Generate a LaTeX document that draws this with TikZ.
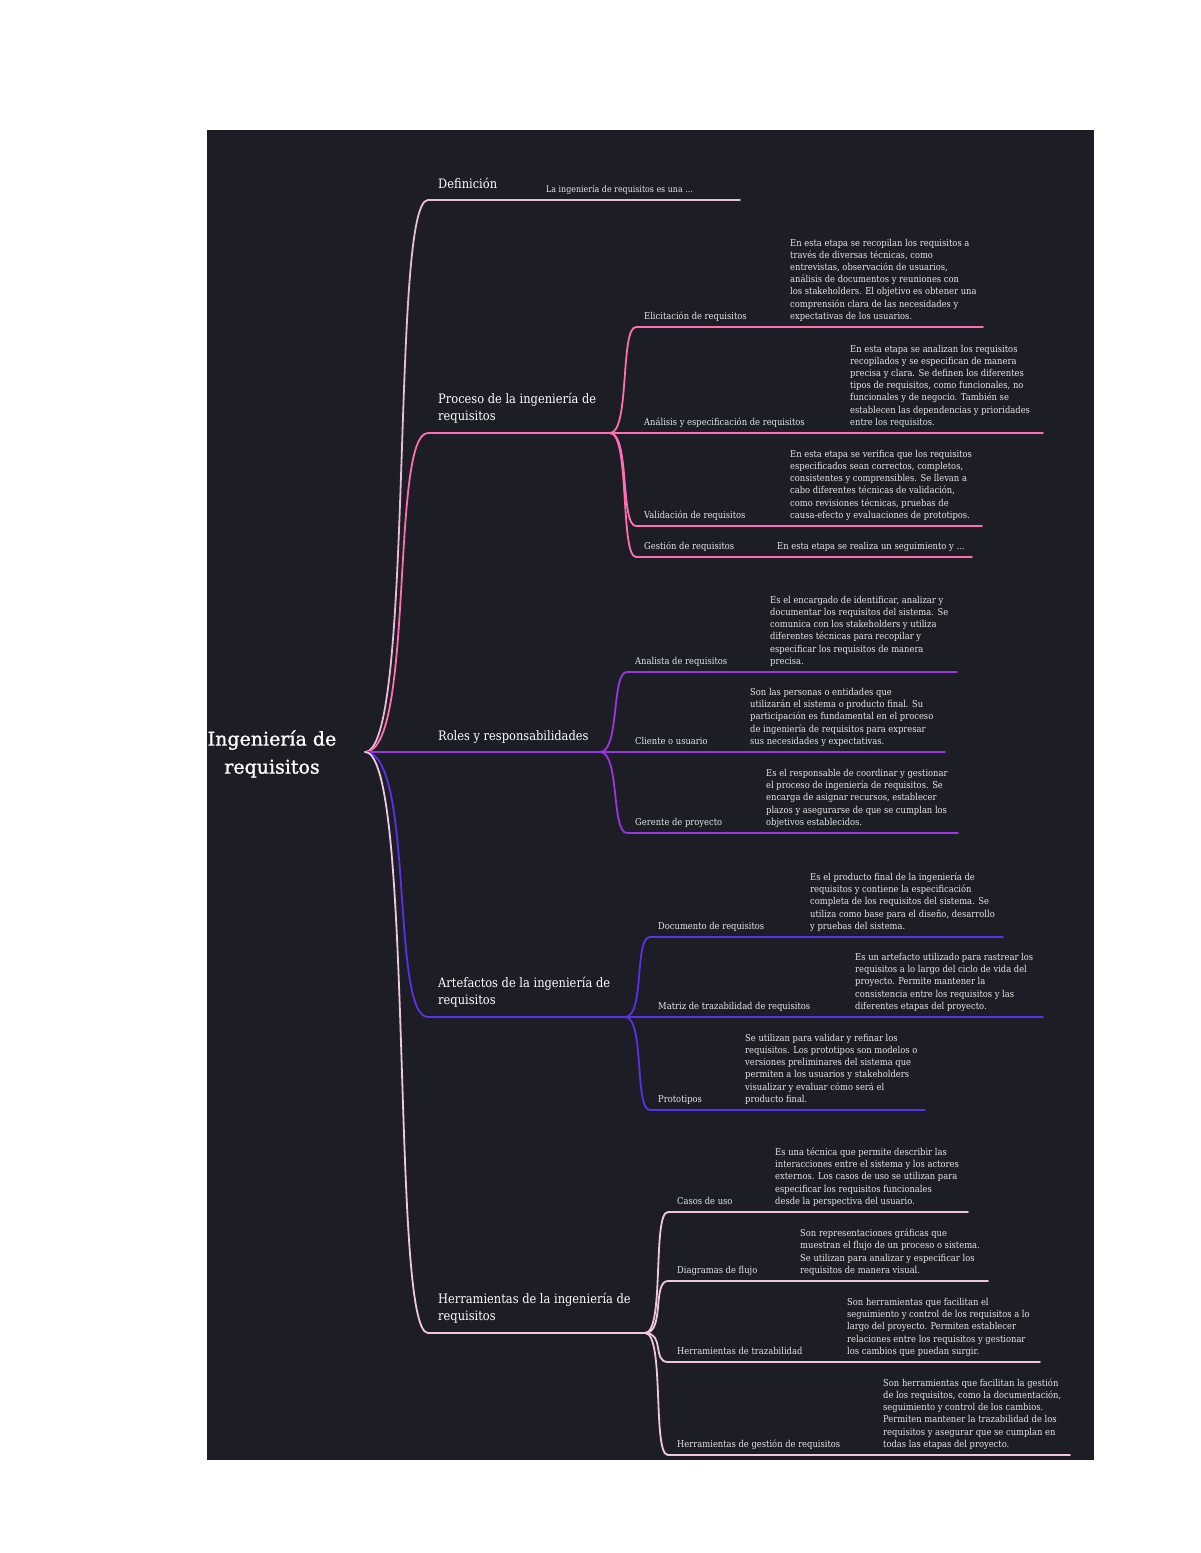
\documentclass[tikz,border=0pt]{standalone}
\usepackage{fontspec}
\setmainfont{DejaVu Serif}[FakeStretch=0.88]
\newfontfamily\titlefont{DejaVu Serif}[FakeBold=1.2]
\definecolor{bg}{HTML}{1D1E25}
\definecolor{txt}{HTML}{E6E6E6}
\definecolor{defcol}{HTML}{E9BCD6}
\definecolor{procol}{HTML}{FF6EB4}
\definecolor{rolcol}{HTML}{9B35E0}
\definecolor{artcol}{HTML}{5B30E6}
\definecolor{hercol}{HTML}{F2C6DF}
\begin{document}
\begin{tikzpicture}[x=1pt,y=-1pt,
    branch/.style={line width=1.8pt,line cap=round},
    topic/.style={anchor=south west,inner sep=0pt,text depth=0pt,text=white,align=left,font=\fontsize{13}{17}\selectfont},
    sub/.style={anchor=south west,inner sep=0pt,text depth=0pt,text=txt,font=\fontsize{9.5}{12.2}\selectfont},
    note/.style={anchor=south west,inner sep=0pt,text depth=0pt,text=txt,align=left,font=\fontsize{9.5}{12.2}\selectfont}]
    \useasboundingbox[fill=white] (0,0) rectangle (1200,1553);
    \fill[bg] (207,130) rectangle (1094,1460);

    % root
    \node[text=white,align=center,font=\titlefont\fontsize{19}{28}\selectfont] (root) at (272,754) {Ingeniería de\\requisitos};
    \coordinate (o) at (365,752);

    % main branches
    \coordinate (def) at (428,200); \coordinate (defend) at (740,200);
    \coordinate (pro) at (428,433); \coordinate (pp) at (610,433); \coordinate (proend) at (1043,433);
    \coordinate (rp) at (600,752); \coordinate (rolend) at (945,752);
    \coordinate (art) at (428,1017); \coordinate (ap) at (625,1017); \coordinate (artend) at (1043,1017);
    \coordinate (her) at (428,1333); \coordinate (hp) at (645,1333);

    \draw[branch,defcol] (o) .. controls +(50,0) and +(-38,0) .. (def) -- (defend);
    \draw[branch,procol] (o) .. controls +(50,0) and +(-38,0) .. (pro) -- (pp) -- (proend);
    \draw[branch,rolcol] (o) -- (rp) -- (rolend);
    \draw[branch,artcol] (o) .. controls +(50,0) and +(-38,0) .. (art) -- (ap) -- (artend);
    \draw[branch,hercol] (o) .. controls +(50,0) and +(-38,0) .. (her) -- (hp);

    \node[topic] (tdef) at (438,189) {Definición};
    \node[note,font=\fontsize{9}{12}\selectfont] (ndef) at (546,193) {La ingeniería de requisitos es una ...};
    \node[topic] (tpro) at (438,421) {Proceso de la ingeniería de\\requisitos};
    \node[topic] (trol) at (438,741) {Roles y responsabilidades};
    \node[topic] (tart) at (438,1005) {Artefactos de la ingeniería de\\requisitos};
    \node[topic] (ther) at (438,1321) {Herramientas de la ingeniería de\\requisitos};

    % proceso
    \coordinate (eli) at (636,327); \coordinate (eliend) at (983,327);
    \coordinate (val) at (636,526); \coordinate (valend) at (982,526);
    \coordinate (ges) at (636,557); \coordinate (gesend) at (972,557);
    \draw[branch,procol] (pp) .. controls +(20,0) and +(-16,0) .. (eli) -- (eliend);
    \draw[branch,procol] (pp) .. controls +(20,0) and +(-16,0) .. (val) -- (valend);
    \draw[branch,procol] (pp) .. controls +(20,0) and +(-16,0) .. (ges) -- (gesend);

    \node[sub] (seli) at (644,319.5) {Elicitación de requisitos};
    \node[note] (neli) at (790,319.5) {En esta etapa se recopilan los requisitos a\\través de diversas técnicas, como\\entrevistas, observación de usuarios,\\análisis de documentos y reuniones con\\los stakeholders. El objetivo es obtener una\\comprensión clara de las necesidades y\\expectativas de los usuarios.};
    \node[sub] (sana) at (644,425.5) {Análisis y especificación de requisitos};
    \node[note] (nana) at (850,425.5) {En esta etapa se analizan los requisitos\\recopilados y se especifican de manera\\precisa y clara. Se definen los diferentes\\tipos de requisitos, como funcionales, no\\funcionales y de negocio. También se\\establecen las dependencias y prioridades\\entre los requisitos.};
    \node[sub] (sval) at (644,518.5) {Validación de requisitos};
    \node[note] (nval) at (790,518.5) {En esta etapa se verifica que los requisitos\\especificados sean correctos, completos,\\consistentes y comprensibles. Se llevan a\\cabo diferentes técnicas de validación,\\como revisiones técnicas, pruebas de\\causa-efecto y evaluaciones de prototipos.};
    \node[sub] (sges) at (644,549.5) {Gestión de requisitos};
    \node[note] (nges) at (777,549.5) {En esta etapa se realiza un seguimiento y ...};

    % roles
    \coordinate (ana) at (627,672); \coordinate (anaend) at (957,672);
    \coordinate (ger) at (627,833); \coordinate (gerend) at (958,833);
    \draw[branch,rolcol] (rp) .. controls +(20,0) and +(-16,0) .. (ana) -- (anaend);
    \draw[branch,rolcol] (rp) .. controls +(20,0) and +(-16,0) .. (ger) -- (gerend);

    \node[sub] (sanal) at (635,664.5) {Analista de requisitos};
    \node[note] (nanal) at (770,664.5) {Es el encargado de identificar, analizar y\\documentar los requisitos del sistema. Se\\comunica con los stakeholders y utiliza\\diferentes técnicas para recopilar y\\especificar los requisitos de manera\\precisa.};
    \node[sub] (scli) at (635,744.5) {Cliente o usuario};
    \node[note] (ncli) at (750,744.5) {Son las personas o entidades que\\utilizarán el sistema o producto final. Su\\participación es fundamental en el proceso\\de ingeniería de requisitos para expresar\\sus necesidades y expectativas.};
    \node[sub] (sger) at (635,825.5) {Gerente de proyecto};
    \node[note] (nger) at (766,825.5) {Es el responsable de coordinar y gestionar\\el proceso de ingeniería de requisitos. Se\\encarga de asignar recursos, establecer\\plazos y asegurarse de que se cumplan los\\objetivos establecidos.};

    % artefactos
    \coordinate (doc) at (650,937); \coordinate (docend) at (1003,937);
    \coordinate (prt) at (650,1110); \coordinate (prtend) at (925,1110);
    \draw[branch,artcol] (ap) .. controls +(20,0) and +(-16,0) .. (doc) -- (docend);
    \draw[branch,artcol] (ap) .. controls +(20,0) and +(-16,0) .. (prt) -- (prtend);

    \node[sub] (sdoc) at (658,929.5) {Documento de requisitos};
    \node[note] (ndoc) at (810,929.5) {Es el producto final de la ingeniería de\\requisitos y contiene la especificación\\completa de los requisitos del sistema. Se\\utiliza como base para el diseño, desarrollo\\y pruebas del sistema.};
    \node[sub] (smat) at (658,1009.5) {Matriz de trazabilidad de requisitos};
    \node[note] (nmat) at (855,1009.5) {Es un artefacto utilizado para rastrear los\\requisitos a lo largo del ciclo de vida del\\proyecto. Permite mantener la\\consistencia entre los requisitos y las\\diferentes etapas del proyecto.};
    \node[sub] (sprt) at (658,1102.5) {Prototipos};
    \node[note] (nprt) at (745,1102.5) {Se utilizan para validar y refinar los\\requisitos. Los prototipos son modelos o\\versiones preliminares del sistema que\\permiten a los usuarios y stakeholders\\visualizar y evaluar cómo será el\\producto final.};

    % herramientas
    \coordinate (cas) at (668,1212); \coordinate (casend) at (968,1212);
    \coordinate (dia) at (668,1281); \coordinate (diaend) at (988,1281);
    \coordinate (tra) at (668,1362); \coordinate (traend) at (1040,1362);
    \coordinate (hge) at (668,1455); \coordinate (hgeend) at (1070,1455);
    \draw[branch,hercol] (hp) .. controls +(20,0) and +(-16,0) .. (cas) -- (casend);
    \draw[branch,hercol] (hp) .. controls +(20,0) and +(-16,0) .. (dia) -- (diaend);
    \draw[branch,hercol] (hp) .. controls +(20,0) and +(-16,0) .. (tra) -- (traend);
    \draw[branch,hercol] (hp) .. controls +(20,0) and +(-16,0) .. (hge) -- (hgeend);

    \node[sub] (scas) at (677,1204.5) {Casos de uso};
    \node[note] (ncas) at (775,1204.5) {Es una técnica que permite describir las\\interacciones entre el sistema y los actores\\externos. Los casos de uso se utilizan para\\especificar los requisitos funcionales\\desde la perspectiva del usuario.};
    \node[sub] (sdia) at (677,1273.5) {Diagramas de flujo};
    \node[note] (ndia) at (800,1273.5) {Son representaciones gráficas que\\muestran el flujo de un proceso o sistema.\\Se utilizan para analizar y especificar los\\requisitos de manera visual.};
    \node[sub] (stra) at (677,1354.5) {Herramientas de trazabilidad};
    \node[note] (ntra) at (847,1354.5) {Son herramientas que facilitan el\\seguimiento y control de los requisitos a lo\\largo del proyecto. Permiten establecer\\relaciones entre los requisitos y gestionar\\los cambios que puedan surgir.};
    \node[sub] (shge) at (677,1447.5) {Herramientas de gestión de requisitos};
    \node[note] (nhge) at (883,1447.5) {Son herramientas que facilitan la gestión\\de los requisitos, como la documentación,\\seguimiento y control de los cambios.\\Permiten mantener la trazabilidad de los\\requisitos y asegurar que se cumplan en\\todas las etapas del proyecto.};
\end{tikzpicture}
\end{document}
